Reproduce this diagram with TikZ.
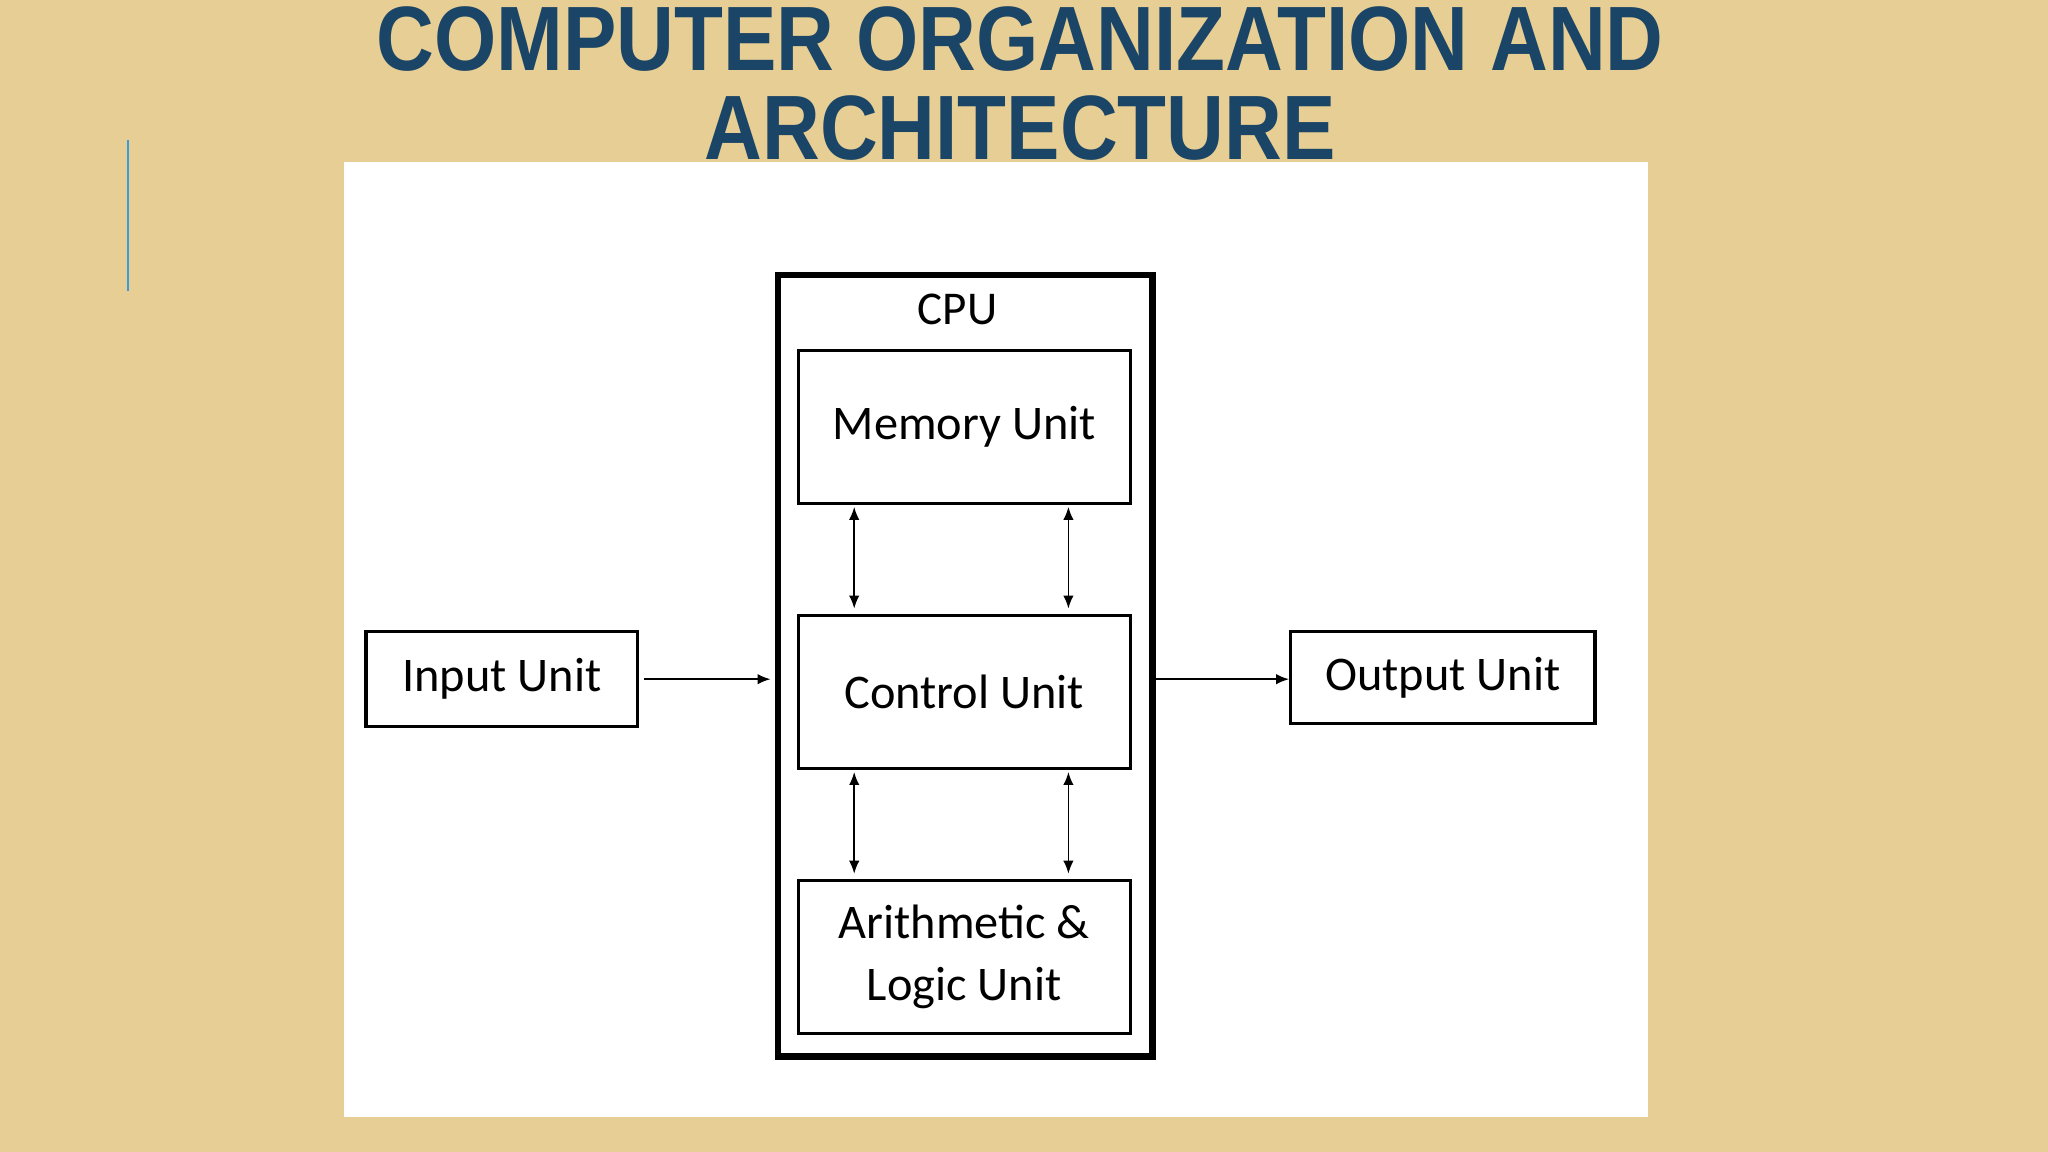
\documentclass[tikz,border=0pt]{standalone}
\usepackage{fontspec}
\setmainfont{Carlito}
\newfontfamily\titlefont{Liberation Sans}
\usetikzlibrary{arrows.meta}
\definecolor{bg}{HTML}{E6CE94}
\definecolor{titleblue}{HTML}{1B4566}
\definecolor{lineblue}{HTML}{3A9BDC}
\begin{document}
\begin{tikzpicture}[x=0.5pt,y=-0.5pt,
  unit/.style={draw,line width=1.2pt,inner sep=0pt,anchor=north west,align=center,font=\fontsize{18.5}{24}\selectfont},
  conn/.style={line width=0.7pt,-{Latex[length=5pt,width=4pt]}},
  bconn/.style={line width=0.7pt,{Latex[length=5pt,width=4pt]}-{Latex[length=5pt,width=4pt]}}]
\useasboundingbox (0,0) rectangle (1568,882);
\fill[bg] (0,0) rectangle (1568,882);
\fill[white] (263,124) rectangle (1262,855);
\draw[lineblue,line width=1pt] (98,107) -- (98,223);
\node[font=\titlefont\bfseries\fontsize{35}{34}\selectfont,text=titleblue,xscale=0.875,align=center] (title) at (781,64) {COMPUTER ORGANIZATION AND\\ARCHITECTURE};
\node[draw,line width=2.6pt,minimum width=143.5pt,minimum height=299pt,anchor=north west,inner sep=0pt] (cpu) at (593,208) {};
\node[font=\fontsize{18}{20}\selectfont] (cpul) at (733,237) {CPU};
\node[unit,minimum width=127pt,minimum height=58.5pt] (mem) at (610,267) {Memory Unit};
\node[unit,minimum width=127pt,minimum height=58.5pt] (ctl) at (610,470) {Control Unit};
\node[unit,minimum width=127pt,minimum height=58.5pt] (alu) at (610,673) {Arithmetic \&\\Logic Unit};
\node[unit,minimum width=104pt,minimum height=36.5pt] (inp) at (279,482) {Input Unit};
\node[unit,minimum width=116.5pt,minimum height=35.5pt] (out) at (987,482) {Output Unit};
\coordinate (m1) at (654,388); \coordinate (c1) at (654,466);
\coordinate (m2) at (818,388); \coordinate (c2) at (818,466);
\coordinate (c3) at (654,591); \coordinate (a3) at (654,669);
\coordinate (c4) at (818,591); \coordinate (a4) at (818,669);
\draw[bconn] (m1) -- (c1);
\draw[bconn] (m2) -- (c2);
\draw[bconn] (c3) -- (a3);
\draw[bconn] (c4) -- (a4);
\coordinate (i1) at (493,520); \coordinate (i2) at (590,520);
\coordinate (o1) at (885,520); \coordinate (o2) at (987,520);
\draw[conn] (i1) -- (i2);
\draw[conn] (o1) -- (out.west |- o2);
\end{tikzpicture}
\end{document}
